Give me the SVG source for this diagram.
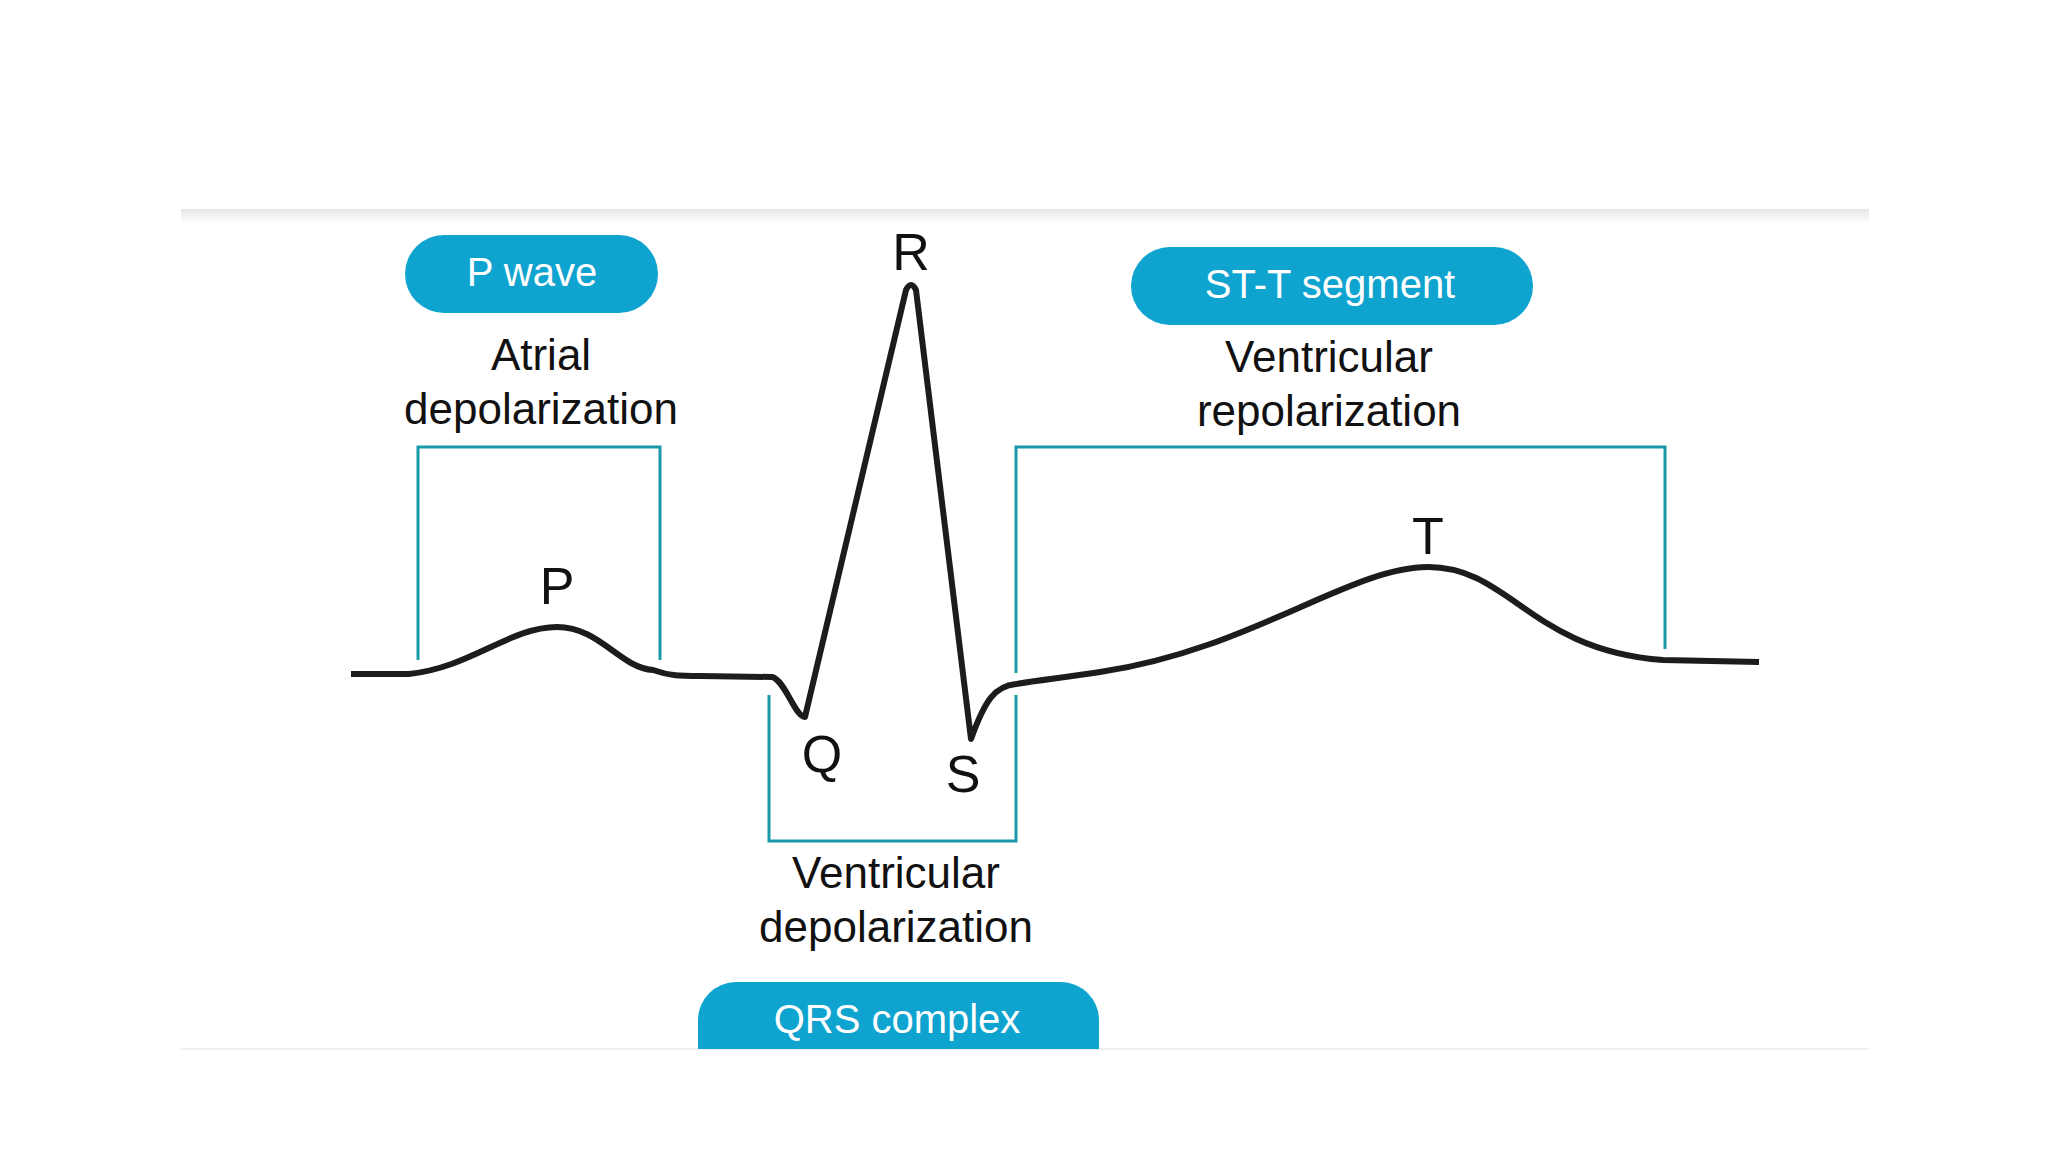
<svg xmlns="http://www.w3.org/2000/svg" width="2048" height="1152" viewBox="0 0 2048 1152">
<defs>
<linearGradient id="band" x1="0" y1="0" x2="0" y2="1"><stop offset="0" stop-color="#e6e6e6"/><stop offset="1" stop-color="#ffffff"/></linearGradient>
<style>
.pill{fill:#0fa3cf}
.pt{font-family:"Liberation Sans",Arial,sans-serif;font-size:40px;fill:#fff;text-anchor:middle}
.lb{font-family:"Liberation Sans",Arial,sans-serif;font-size:44px;fill:#111;text-anchor:middle}
.lt{font-family:"Liberation Sans",Arial,sans-serif;font-size:52px;fill:#111;text-anchor:middle}
.br{fill:none;stroke:#1a9aa8;stroke-width:3}
</style>
</defs>
<rect width="2048" height="1152" fill="#fff"/>
<rect x="181" y="209" width="1688" height="14" fill="url(#band)"/>
<line x1="181" y1="1049" x2="1869" y2="1049" stroke="#f0f0f0" stroke-width="2"/>
<g id="connectors">
<path class="br" d="M418,660 V447 H660 V660"/>
<path class="br" d="M1016,673 V447 H1665 V649"/>
<path class="br" d="M769,695 V841 H1016 V695"/>
</g>
<g id="ecg">
<path d="M351,674 L409,674 C470,668 510,627 557,627 C600,627 620,668 653,670 C670,676 680,676 700,676 L772,677 C785,680 795,717 805,717 L906,290 Q911,280 916,290 L971,739 C985,700 995,686 1016,684 C1040,680 1060,678 1100,672 C1250,650 1350,567 1428,567 C1510,567 1530,650 1663,660 L1759,662" fill="none" stroke="#1c1c1c" stroke-width="6" stroke-linejoin="round"/>
<text class="lt" x="911" y="270">R</text>
<text class="lt" x="557" y="604">P</text>
<text class="lt" x="822" y="772">Q</text>
<text class="lt" x="963" y="792">S</text>
<text class="lt" x="1428" y="554">T</text>
</g>
<g id="pwave">
<rect class="pill" x="405" y="235" width="253" height="78" rx="39"/>
<text class="pt" x="532" y="286">P wave</text>
<text class="lb" x="541" y="370">Atrial</text>
<text class="lb" x="541" y="424">depolarization</text>
</g>
<g id="stt">
<rect class="pill" x="1131" y="247" width="402" height="78" rx="39"/>
<text class="pt" x="1330" y="298">ST-T segment</text>
<text class="lb" x="1329" y="372">Ventricular</text>
<text class="lb" x="1329" y="426">repolarization</text>
</g>
<g id="qrs">
<text class="lb" x="896" y="888">Ventricular</text>
<text class="lb" x="896" y="942">depolarization</text>
<path class="pill" d="M698,1049 V1020 A38,38 0 0 1 736,982 H1061 A38,38 0 0 1 1099,1020 V1049 Z"/>
<text class="pt" x="897" y="1033">QRS complex</text>
</g>
</svg>
